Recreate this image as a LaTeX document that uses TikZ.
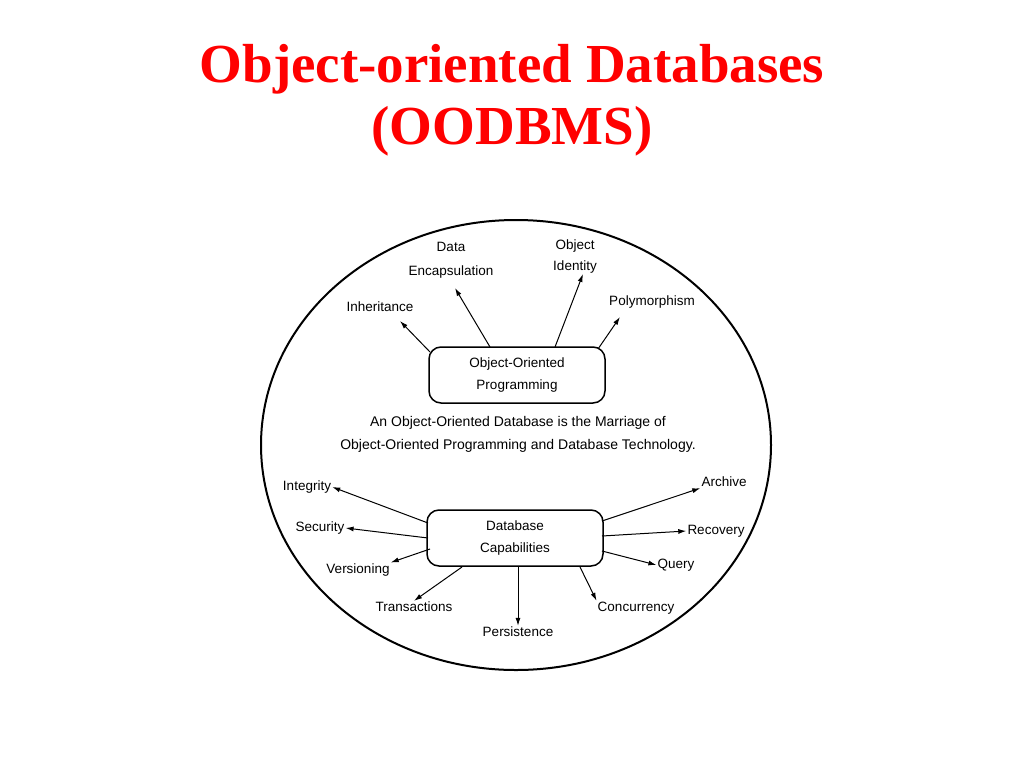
\documentclass[tikz,border=0pt]{standalone}
\usepackage{fontspec}
\setmainfont{Liberation Serif}
\newfontfamily\lab{Liberation Sans}
\usetikzlibrary{arrows.meta}
\begin{document}
\begin{tikzpicture}[x=1pt,y=-1pt,
  lbl/.style={font=\lab\fontsize{13.5}{15}\selectfont, align=center, inner sep=1pt},
  bx/.style={draw, line width=1.5pt, rounded corners=12pt, minimum width=176pt, minimum height=56pt, font=\lab\fontsize{13.5}{22}\selectfont, align=center},
  ar/.style={-{Latex[length=8pt,width=5pt]}, line width=1pt}]
\useasboundingbox (0,0) rectangle (1024,768);
\node[text=red, font=\bfseries\fontsize{55}{62}\selectfont, align=center] (title) at (512,100) {Object-oriented Databases\\(OODBMS)};
\draw[line width=2pt] (516,445) ellipse [x radius=255, y radius=225];
\node[bx] (oop) at (517,375) {Object-Oriented\\Programming};
\node[bx] (db) at (515,538) {Database\\Capabilities};
\node[lbl, font=\lab\fontsize{14}{23}\selectfont] (mid) at (518,434) {An Object-Oriented Database is the Marriage of\\Object-Oriented Programming and Database Technology.};
\node[lbl, font=\lab\fontsize{13.5}{24}\selectfont] (enc) at (451,260) {Data\\Encapsulation};
\node[lbl, font=\lab\fontsize{13.5}{21}\selectfont] (oid) at (575,257) {Object\\Identity};
\node[lbl] (inh) at (380,307) {Inheritance};
\node[lbl] (poly) at (652,302) {Polymorphism};
\draw[ar] (430,352) -- (400,321);
\draw[ar] (490,347) -- (455,288);
\draw[ar] (555,347) -- (583,274);
\draw[ar] (598,349) -- (620,317);
\node[lbl] (integ) at (307,487) {Integrity};
\node[lbl] (sec) at (320,528) {Security};
\node[lbl] (ver) at (358,570) {Versioning};
\node[lbl] (tra) at (414,607) {Transactions};
\node[lbl] (per) at (518,632) {Persistence};
\node[lbl] (con) at (636,608) {Concurrency};
\node[lbl] (qry) at (676,565) {Query};
\node[lbl] (rec) at (716,531) {Recovery};
\node[lbl] (arc) at (724,482) {Archive};
\draw[ar] (428,523) -- (integ.east);
\draw[ar] (428,538) -- (sec.east);
\draw[ar] (430,549) -- (ver.north east);
\draw[ar] (462,567) -- (tra.north);
\draw[ar] (518,567) -- (per.north);
\draw[ar] (580,567) -- (con.north west);
\draw[ar] (602,551) -- (qry.west);
\draw[ar] (602,536) -- (rec.west);
\draw[ar] (602,521) -- (arc.south west);
\end{tikzpicture}
\end{document}
